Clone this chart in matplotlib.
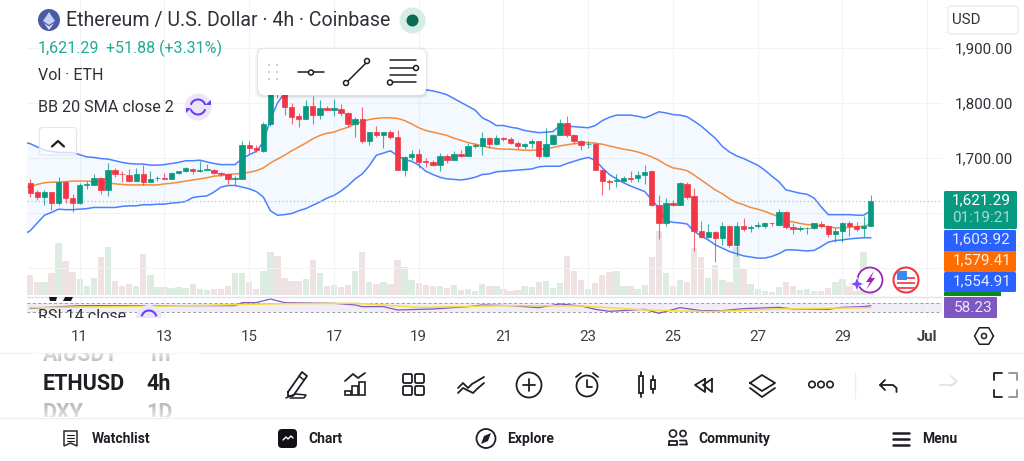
import numpy as np
import matplotlib
matplotlib.use("Agg")
import matplotlib.pyplot as plt
from matplotlib.patches import Circle, Rectangle, FancyBboxPatch, Polygon, Wedge

plt.rcParams['font.family'] = ['Roboto', 'DejaVu Sans']

W, H = 1024, 461

# 4h candles, Jun 10 to Jun 29
opens = [1655,1638,1629,1638,1618,1656,1627,1618,1651,1651,
         1664,1642,1679,1671,1669,1659,1671,1657,1663,1664,
         1662,1673,1676,1680,1676,1679,1679,1673,1670,1661,
         1662,1723,1719,1713,1761,1830,1820,1793,1776,1771,
         1795,1779,1791,1788,1789,1782,1761,1770,1731,1747,
         1741,1747,1739,1678,1702,1707,1695,1693,1688,1704,
         1697,1708,1704,1722,1722,1737,1725,1737,1734,1728,
         1721,1727,1730,1703,1726,1742,1764,1741,1730,1725,
         1726,1679,1658,1658,1659,1664,1663,1669,1676,1615,
         1581,1618,1615,1653,1630,1567,1556,1565,1554,1577,
         1542,1577,1573,1576,1577,1582,1579,1602,1575,1571,
         1572,1573,1580,1577,1561,1568,1581,1577,1572,1576]
highs = [1662,1642,1642,1639,1665,1658,1635,1655,1659,1670,
         1665,1691,1681,1676,1680,1682,1688,1676,1667,1673,
         1674,1677,1683,1682,1695,1689,1680,1675,1671,1667,
         1730,1730,1724,1765,1835,1838,1830,1800,1782,1806,
         1813,1805,1795,1807,1798,1783,1775,1793,1748,1759,
         1748,1750,1750,1703,1714,1716,1700,1697,1709,1708,
         1712,1714,1728,1727,1747,1738,1742,1738,1738,1730,
         1728,1735,1731,1755,1744,1770,1776,1744,1733,1731,
         1727,1680,1661,1671,1668,1676,1676,1688,1678,1632,
         1627,1624,1657,1656,1645,1585,1580,1567,1584,1579,
         1584,1591,1579,1583,1584,1584,1607,1603,1582,1577,
         1574,1582,1585,1579,1573,1584,1585,1584,1594,1633]
lows = [1629,1623,1615,1605,1615,1619,1602,1617,1644,1650,
        1635,1630,1665,1657,1656,1658,1651,1656,1659,1661,
        1661,1671,1675,1670,1675,1678,1671,1668,1653,1651,
        1662,1709,1711,1710,1759,1809,1779,1762,1756,1770,
        1761,1770,1787,1777,1776,1756,1739,1727,1723,1738,
        1718,1735,1678,1668,1697,1682,1684,1685,1676,1691,
        1696,1702,1703,1718,1706,1718,1724,1731,1726,1716,
        1716,1718,1699,1702,1724,1741,1739,1726,1714,1718,
        1678,1633,1642,1647,1657,1657,1656,1653,1613,1553,
        1577,1613,1614,1626,1530,1554,1554,1511,1541,1539,
        1521,1568,1565,1572,1572,1577,1579,1571,1561,1567,
        1561,1571,1573,1556,1547,1548,1559,1567,1556,1576]
closes = [1636,1629,1638,1618,1656,1627,1618,1651,1653,1664,
          1642,1679,1670,1670,1659,1671,1657,1662,1664,1662,
          1673,1676,1681,1677,1679,1680,1673,1670,1661,1663,
          1723,1719,1714,1761,1830,1820,1793,1775,1770,1795,
          1779,1791,1788,1790,1781,1761,1770,1730,1747,1741,
          1747,1738,1678,1702,1707,1693,1693,1688,1704,1697,
          1708,1704,1722,1724,1737,1725,1736,1734,1728,1722,
          1726,1730,1703,1726,1742,1764,1741,1730,1724,1726,
          1679,1658,1656,1660,1664,1662,1669,1675,1615,1581,
          1618,1615,1654,1629,1567,1556,1565,1554,1577,1542,
          1577,1571,1575,1579,1582,1581,1602,1575,1571,1573,
          1573,1581,1576,1561,1568,1581,1577,1571,1576,1621.29]
volumes = [60,40,38,67,155,102,70,47,28,50,
           113,144,42,27,33,27,123,59,23,23,
           21,25,21,32,18,15,18,18,27,65,
           67,40,18,72,128,117,51,42,42,48,
           104,67,28,29,23,30,71,128,40,33,
           40,34,104,84,45,36,29,27,28,22,
           30,15,18,11,33,27,27,18,12,15,
           27,24,39,42,20,36,117,72,44,17,
           36,59,68,72,28,27,18,30,115,192,
           65,28,45,39,140,115,52,90,45,40,
           145,80,33,18,11,8,23,39,27,14,
           17,11,12,20,38,48,27,13,130,10]

# Bollinger bands, first value belongs to the bar before the window
bb_upper = [1729,1726,1720,1714,1712,1710,1710,1710,1706,1702,1701,
            1699,1698,1695,1692,1690,1689,1689,1687,1687,1688,
            1690,1692,1695,1695,1696,1693,1690,1688,1688,1688,
            1699,1706,1712,1729,1770,1800,1818,1827,1833,1835,
            1835,1836,1836,1836,1836,1835,1835,1834,1833,1833,
            1832,1832,1830,1829,1827,1825,1824,1822,1819,1815,
            1808,1801,1794,1787,1773,1767,1759,1759,1756,1754,
            1750,1748,1746,1747,1748,1759,1758,1757,1756,1755,
            1759,1768,1774,1778,1778,1778,1776,1773,1778,1784,
            1782,1779,1778,1775,1767,1758,1747,1736,1721,1711,
            1704,1699,1693,1687,1678,1667,1657,1642,1639,1636,
            1634,1627,1611,1597,1597,1597,1597,1596,1596,1603.92]
bb_mid = [1647,1648,1652,1655,1656,1656,1657,1658,1658,1658,1657,
          1656,1655,1653,1652,1651,1651,1651,1651,1651,1653,
          1654,1656,1658,1660,1662,1664,1667,1668,1670,1671,
          1672,1674,1677,1682,1691,1698,1705,1713,1720,1727,
          1735,1741,1745,1747,1752,1756,1762,1766,1770,1772,
          1773,1773,1772,1768,1762,1755,1750,1747,1744,1741,
          1736,1732,1728,1725,1722,1719,1717,1716,1716,1715,
          1714,1714,1715,1717,1719,1722,1724,1726,1727,1728,
          1727,1725,1722,1719,1716,1714,1711,1707,1702,1696,
          1688,1682,1680,1677,1669,1660,1651,1642,1635,1626,
          1619,1615,1610,1607,1603,1598,1593,1585,1584,1581,
          1579,1578,1576,1575,1573,1573,1574,1575,1576,1579.41]
bb_lower = [1560,1568,1582,1596,1601,1607,1606,1606,1607,1608,1610,
            1610,1610,1610,1612,1613,1613,1615,1615,1616,1616,
            1618,1619,1621,1628,1630,1631,1638,1647,1650,1650,
            1647,1644,1639,1629,1604,1596,1597,1599,1604,1608,
            1614,1620,1627,1632,1640,1650,1662,1671,1686,1705,
            1709,1713,1704,1697,1694,1687,1676,1670,1665,1662,
            1661,1660,1662,1665,1670,1671,1675,1676,1677,1678,
            1679,1680,1684,1685,1685,1685,1690,1694,1698,1701,
            1696,1682,1670,1662,1655,1649,1644,1639,1624,1609,
            1586,1583,1582,1580,1567,1558,1551,1542,1536,1530,
            1526,1522,1520,1518,1518,1521,1526,1533,1533,1532,
            1531,1532,1539,1547,1550,1551,1553,1554,1555,1554.91]

rsi_bars = [1,8,21,30,31,33,35,37,44,47,48,51,53,58,63,65,69,73,76,79,81,83,88,90,93,96,99,102,107,109,114,116,119,120]
rsi_vals = [46.4,58.2,58.2,58.2,71.6,71.6,87.8,71.6,68.6,61.2,53.8,53.8,39,43.4,53.8,61.2,58.2,49.4,65.6,56.8,42,33,42,24.2,49.4,36,36,44.9,50.8,43.4,42,50.8,53.8,58.23]
rsi_ma_bars = [1,21,37,47,56,69,79,88,97,107,120]
rsi_ma_vals = [49.4,56.8,67.1,68.6,50.8,58.2,56.8,39,31.6,43.4,49.4]

price_ticks = [1500, 1600, 1700, 1800, 1900]
price_labels = ["", "", "1,700.00", "1,800.00", "1,900.00"]
date_bars = [8, 20, 32, 44, 56, 68, 80, 92, 104, 116, 128]
date_labels = ["11", "13", "15", "17", "19", "21", "23", "25", "27", "29", "Jul"]

GREEN = "#089981"
RED = "#F23645"
BLUE = "#4C80FF"
ORANGE = "#F58B3C"
PURPLE = "#7E57C2"
TXT = "#2e3238"
GRID = "#f2f3f5"

fig = plt.figure(figsize=(W / 100, H / 100), dpi=100, facecolor="white")


def px_axes(left, top, right, bottom):
    return fig.add_axes([left / W, 1 - bottom / H, (right - left) / W, (bottom - top) / H])


# bar number <-> pixel: bar 1 sits at x=30.3, 7.062 px per bar
x_left = 1 + (27 - 30.3) / 7.062
x_right = 1 + (942 - 30.3) / 7.062
bars = np.arange(1, 121)
band_bars = np.arange(0, 121)

# volume sits under the candles
ax_vol = px_axes(27, 0, 942, 295)
ax_vol.set_xlim(x_left, x_right)
ax_vol.set_ylim(0, 885)
ax_vol.axis("off")
vol_cols = ["#dcece1" if c >= o else "#efe2e3" for o, c in zip(opens, closes)]
ax_vol.bar(bars, volumes, width=0.9, color=vol_cols)

ax = px_axes(27, 0, 942, 296)
ax.patch.set_alpha(0)
ax.set_zorder(2)
ax.set_xlim(x_left, x_right)
ax.set_ylim(1700 - 138 / 0.55, 1700 + 158 / 0.55)
for s in ax.spines.values():
    s.set_visible(False)
ax.yaxis.tick_right()
ax.set_yticks(price_ticks)
ax.set_yticklabels(price_labels, fontsize=10.9, color=TXT)
ax.tick_params(axis="y", length=0, pad=9)
ax.set_xticks(date_bars)
ax.tick_params(axis="x", length=0, labelbottom=False)
ax.grid(True, color=GRID, lw=0.8)
ax.set_axisbelow(True)

ax.fill_between(band_bars, bb_lower, bb_upper, color="#2196F3", alpha=0.05, lw=0)
ax.plot(band_bars, bb_upper, color=BLUE, lw=1.1)
ax.plot(band_bars, bb_lower, color=BLUE, lw=1.1)
ax.plot(band_bars, bb_mid, color=ORANGE, lw=1.1)
ax.axhline(closes[-1], color="#8fd3c5", lw=0.9, ls=(0, (1, 2)))

cols = [GREEN if c >= o else RED for o, c in zip(opens, closes)]
ax.vlines(bars, lows, highs, colors=cols, lw=0.8, alpha=0.75, zorder=3)
ax.bar(bars, np.array(closes) - np.array(opens), bottom=opens, width=0.76, color=cols,
       edgecolor=cols, lw=0.5, zorder=4)

# RSI pane
ax_rsi = px_axes(27, 297, 942, 318)
ax_rsi.set_xlim(x_left, x_right)
ax_rsi.set_ylim(30 - 6 / 0.225, 70 + 6 / 0.225)
for s in ax_rsi.spines.values():
    s.set_visible(False)
ax_rsi.set_yticks([])
ax_rsi.set_xticks(date_bars)
ax_rsi.set_xticklabels(date_labels, fontsize=10.8, color="#3b3f46")
ax_rsi.get_xticklabels()[-1].set_fontweight("bold")
ax_rsi.tick_params(axis="x", length=0, pad=8.5)
ax_rsi.grid(True, axis="x", color=GRID, lw=0.8)
ax_rsi.axhspan(30, 70, color=PURPLE, alpha=0.1, lw=0)
ax_rsi.axhline(70, color="#9a9ca3", lw=0.7, ls=(0, (3, 2.5)))
ax_rsi.axhline(30, color="#9a9ca3", lw=0.7, ls=(0, (3, 2.5)))
ax_rsi.plot(rsi_bars, rsi_vals, color=PURPLE, lw=0.9)
ax_rsi.plot(rsi_ma_bars, rsi_ma_vals, color="#F5DD3A", lw=1.1)

# everything else is drawn in pixel coordinates
ui = fig.add_axes([0, 0, 1, 1])
ui.patch.set_alpha(0)
ui.set_zorder(5)
ui.set_xlim(0, W)
ui.set_ylim(H, 0)
ui.axis("off")


def line(xs, ys, c="#1c1f24", lw=1.3, **kw):
    ui.plot(xs, ys, color=c, lw=lw, solid_capstyle="round", solid_joinstyle="round", **kw)


def box(x0, y0, x1, y1, r=2, fc="white", ec="none", lw=0.8, z=3, **kw):
    p = FancyBboxPatch((x0 + r, y0 + r), x1 - x0 - 2 * r, y1 - y0 - 2 * r, boxstyle=f"round,pad={r}",
                       fc=fc, ec=ec, lw=lw, zorder=z, **kw)
    ui.add_patch(p)


def ring(x, y, r, c="#1c1f24", lw=1.3, fc="none", z=3):
    ui.add_patch(Circle((x, y), r, fc=fc, ec=c, lw=lw, zorder=z))


def label(x, y, s, size=10.5, c=TXT, ha="left", weight="normal", **kw):
    return ui.text(x, y, s, fontsize=size, color=c, ha=ha, va="center", fontweight=weight, **kw)


def clipped(x, y, s, clip, **kw):
    t = label(x, y, s, clip_on=True, **kw)
    t.set_clip_path(Rectangle((clip[0], clip[1]), clip[2] - clip[0], clip[3] - clip[1], transform=ui.transData))
    return t


# header legend
ui.add_patch(Circle((49, 20), 11, fc="#4a5aa6", ec="none"))
ui.add_patch(Polygon([(49, 12), (55, 21), (49, 25), (43, 21)], fc="#c6d0f0", ec="none"))
ui.add_patch(Polygon([(49, 26.5), (54, 23), (49, 30), (44, 23)], fc="#e4e9fa", ec="none"))
label(65.5, 20.5, "Ethereum / U.S. Dollar · 4h · Coinbase", size=14.05)
ring(412.5, 20.5, 13, c="none", fc="#d6ede7")
ring(412.5, 20.5, 6, c="none", fc="#0b6b54", z=4)
label(38, 48, "1,621.29", size=11.5, c="#22ab94")
label(105.5, 48, "+51.88 (+3.31%)", size=11.5, c="#22ab94")
label(38.5, 75.5, "Vol · ETH", size=11.5)
label(38.5, 107, "BB 20 SMA close 2", size=11.6)


def sync_arrows(x, y, z):
    # two arcs chasing each other, arrowhead on the leading end
    for a0, a1, tip in ((205, 335, (x + 9, y - 3)), (25, 155, (x - 9, y + 3))):
        a = np.radians(np.linspace(a0, a1, 20))
        ui.plot(x + 7.5 * np.cos(a), y + 7.5 * np.sin(a), color="#6d3df5", lw=1.5, zorder=z)
        sign = 1 if tip[0] > x else -1
        ui.add_patch(Polygon([(tip[0] + 3.5 * sign, tip[1] - 3.5 * sign), (tip[0] + 3.5 * sign, tip[1] + 1.5 * sign),
                              (tip[0] - 2 * sign, tip[1] + 1.5 * sign)], fc="#6d3df5", ec="none", zorder=z))


ring(198, 107, 13.5, c="none", fc="#ece6fa", z=5)
sync_arrows(198, 107, 6)

# collapse button
box(39.5, 127.5, 76.5, 155, r=3, ec="#e3e5e8", fc=(1, 1, 1, 0.75))
line([52, 58, 64], [146.5, 141, 146.5], lw=1.6, zorder=4)

# floating drawing toolbar
for off, a in [(3, 0.02), (2, 0.03), (1, 0.05)]:
    box(258 - off, 49 - off + 1, 426 + off, 95 + off + 1, r=7, fc=(0, 0, 0, a), z=6)
box(258, 49, 426, 95, r=7, z=7)
for dx in (269, 277):
    for dy in (65, 72, 79):
        ui.add_patch(Rectangle((dx - 1, dy - 1), 2, 2, fc="#cfd2d6", ec="none", zorder=8))
line([298, 324], [72.5, 72.5], zorder=8, lw=1.1)
ring(311, 72.5, 2.5, fc="white", lw=1.1, z=9)
line([347, 367], [82, 62], zorder=8, lw=1.1)
ring(346, 83, 2.5, fc="white", lw=1.1, z=9)
ring(367, 61, 2.5, fc="white", lw=1.1, z=9)
for yy in (60, 68, 75, 82):
    line([390, 416], [yy, yy], zorder=8, lw=1.1)
ring(416, 68, 2.5, fc="white", lw=1.1, z=9)
ring(390, 82.5, 2.5, fc="white", lw=1.1, z=9)

# currency picker
box(948, 6, 1018, 34, r=3, ec="#e6e7ea")
label(952, 20, "USD", size=10.8)
line([1003, 1007, 1011], [18, 22, 18], lw=1.0)

# pane divider and clipped pane header
line([27, 942], [296.5, 296.5], c="#dfe3f1", lw=1)
ui.add_patch(Polygon([(49, 297), (57, 297), (56, 301), (50, 301)], fc="#151515", ec="none", zorder=4))
ui.add_patch(Polygon([(65, 297), (73, 297), (71, 301), (63, 301)], fc="#151515", ec="none", zorder=4))
clipped(38.5, 316.5, "RSI 14 close", (0, 300, 300, 318), size=11.6)
ui.add_patch(Wedge((149, 318), 13, 180, 360, fc="#ece6fa", ec="none", zorder=2))
a = np.radians(np.linspace(200, 340, 20))
ui.plot(149 + 7.5 * np.cos(a), 318 + 7.5 * np.sin(a), color="#6d3df5", lw=1.5, zorder=3)

# last value tags
box(944, 191, 1017, 229, r=1.5, fc=GREEN)
label(1011, 200.5, "1,621.29", size=11, c="white", ha="right", zorder=5)
label(1011, 218, "01:19:21", size=11, c="#a5dcd0", ha="right", zorder=5)
box(944, 230, 1016, 252, r=1.5, fc="#2962FF")
label(1011, 239.5, "1,603.92", size=11, c="#e6ecff", ha="right", zorder=5)
box(944, 251, 1016, 272, r=1.5, fc="#FF6D00")
label(1011, 260, "1,579.41", size=11, c="#fff0e5", ha="right", zorder=5)
box(944, 272, 1016, 292, r=1.5, fc="#2962FF")
label(1011, 281, "1,554.91", size=11, c="#e6ecff", ha="right", zorder=5)
ui.add_patch(Rectangle((944, 292), 57, 3.5, fc="#0a8a1f", ec="none", zorder=4))
box(944, 297, 997, 318, r=1, fc=PURPLE)
label(992, 307.5, "58.23", size=11, c="#ece6fa", ha="right", zorder=5)

# market event badges
ring(870, 280, 12.5, c="#9c27b0", lw=1.3, fc="white", z=6)
ui.add_patch(Polygon([(874, 271), (866, 282), (870, 282), (866, 290), (875, 278), (871, 278)], fc="#9c27b0", ec="none", zorder=7))
ui.add_patch(Polygon([(857, 277), (859, 282), (864, 284), (859, 286), (857, 291), (855, 286), (850, 284), (855, 282)],
                     fc="#7a4dff", ec="white", lw=0.5, zorder=8))
ring(906, 280, 12.5, c="#f23645", lw=1.5, fc="white", z=6)
for yy in (278, 283, 288):
    ui.add_patch(Rectangle((897, yy - 1.2), 18, 2.4, fc="#f2555f", ec="none", zorder=7))
ui.add_patch(Rectangle((897, 271), 10, 9, fc="#3d8bf0", ec="none", zorder=8))

# settings hexagon next to the time scale
ang = np.radians(np.arange(0, 361, 60))
line(984 + 9.5 * np.cos(ang), 336 + 9.5 * np.sin(ang), lw=1.1)
ring(984, 336, 2.5, lw=1.1)

line([0, W], [352.5, 352.5], c="#eceef0", lw=0.9)
line([0, W], [417.5, 417.5], c="#eceef0", lw=0.9)

# symbol and interval wheels
clipped(43, 355, "AIUSDT", (0, 353, 140, 375), size=15.5, c="#b9bbbf", weight="bold")
clipped(146, 355, "1h", (140, 353, 200, 375), size=15.5, c="#b9bbbf", weight="bold")
clipped(43, 384, "ETHUSD", (0, 370, 125, 400), size=15.5, c="#1c1f24", weight="bold")
clipped(146, 384, "4h", (140, 370, 200, 400), size=15.5, c="#1c1f24", weight="bold")
clipped(43, 412.5, "DXY", (0, 400, 140, 417), size=15.5, c="#b9bbbf", weight="bold")
clipped(146, 412.5, "1D", (140, 400, 200, 417), size=15.5, c="#b9bbbf", weight="bold")
grad = np.ones((20, 1, 4))
grad[:, 0, 3] = np.linspace(0, 0.6, 20)
ui.imshow(grad, extent=(30, 200, 353, 362), aspect="auto", zorder=4)
ui.imshow(grad[::-1], extent=(30, 200, 405, 417), aspect="auto", zorder=4)
ui.set_xlim(0, W)
ui.set_ylim(H, 0)

# bottom tool row
line([288, 302, 307, 293, 288, 288], [392, 372, 376, 396, 396, 392], lw=1.3)
line([299, 304], [376, 380], lw=1.1)
line([286, 290, 296, 306, 304, 290], [398, 396, 394, 395, 398, 398], lw=1.1)
line([345, 353, 358, 365], [381, 374, 378, 373], lw=1.3)
for xx, top in ((345, 391), (352, 386), (359, 382)):
    ui.add_patch(Rectangle((xx, top), 6, 395 - top, fc="none", ec="#1c1f24", lw=1.2))
for xx in (403, 415):
    for yy in (374, 386):
        box(xx, yy, xx + 9, yy + 9, r=1.5, fc="none", ec="#1c1f24", lw=1.3)
line([458, 463, 468, 472, 484], [388, 383, 388, 384, 377], lw=1.3)
line([458, 463, 473, 477, 484], [393, 388, 393, 389, 383], lw=1.3)
ring(529, 385, 12.5)
line([523, 535], [385, 385])
line([529, 529], [379, 391])
ring(587, 386, 10.5)
line([587, 587, 592], [380, 387, 387])
line([576, 581], [377, 373])
line([598, 593], [377, 373])
ui.add_patch(Rectangle((639, 376), 4, 17, fc="none", ec="#1c1f24", lw=1.3))
line([641, 641], [372, 376])
line([641, 641], [393, 397])
ui.add_patch(Rectangle((651, 380), 3.5, 9, fc="none", ec="#1c1f24", lw=1.3))
line([652.7, 652.7], [376, 380])
line([652.7, 652.7], [389, 393])
line([705, 695, 705, 705], [379, 385, 392, 379])
line([712, 703, 712, 712], [379, 385, 392, 379])
line([750, 762, 775, 762, 750], [383, 375, 383, 391, 383])
line([750, 762, 775], [388, 397, 388])
for xx in (812, 821, 830):
    ring(xx, 384.5, 3.2, lw=1.2)
line([855, 855], [372, 398], c="#eceef0", lw=1)
line([880, 893, 896.5, 896.5], [385, 385, 388, 392])
line([885, 880, 885], [380, 385, 390])
line([940, 953, 956.5], [385, 385, 381], c="#e2e3e6")
line([951, 956.5, 951], [376, 381, 386], c="#e2e3e6")
line([994, 994, 1002], [380, 373, 373])
line([1009, 1017, 1017], [373, 373, 380], c="#8f9196")
line([1017, 1017, 1009], [390, 397, 397], c="#8f9196")
line([1002, 994, 994], [397, 397, 390])

# navigation bar
ui.add_patch(Polygon([(64, 431), (77, 431), (77, 446), (70.5, 443), (64, 446)], fc="none", ec="#2b2e33", lw=1.1))
for yy in (435, 438, 441):
    line([67, 74], [yy, yy], lw=0.8)
label(91.5, 439, "Watchlist", size=10, c="#1c1f24", weight="bold")
box(278, 429, 297, 448, r=4, fc="#101216")
line([283, 286, 288, 291, 293], [440, 437, 439, 436, 438], c="white", lw=1, zorder=4)
label(308.5, 439, "Chart", size=10, c="#1c1f24", weight="bold")
ring(486, 438.5, 9.5)
ui.add_patch(Polygon([(491, 433), (488, 441), (481, 444), (484, 436)], fc="#1c1f24", ec="none"))
label(507, 439, "Explore", size=10, c="#1c1f24", weight="bold")
ring(673, 433.5, 3.5, lw=1.2)
ring(683, 433.5, 3, lw=1.2)
line([669, 669, 677, 677, 669], [444.5, 441, 441, 444.5, 444.5], lw=1.3)
line([680, 686, 687, 680], [440.5, 440.5, 444.5, 444.5], lw=1.3)
label(698.5, 439, "Community", size=10, c="#1c1f24", weight="bold")
for yy in (432.5, 438.5, 444.5):
    line([893, 909], [yy, yy], lw=1.8)
label(922.5, 439, "Menu", size=10, c="#1c1f24", weight="bold")

fig.savefig("out.png", dpi=100, facecolor="white")
